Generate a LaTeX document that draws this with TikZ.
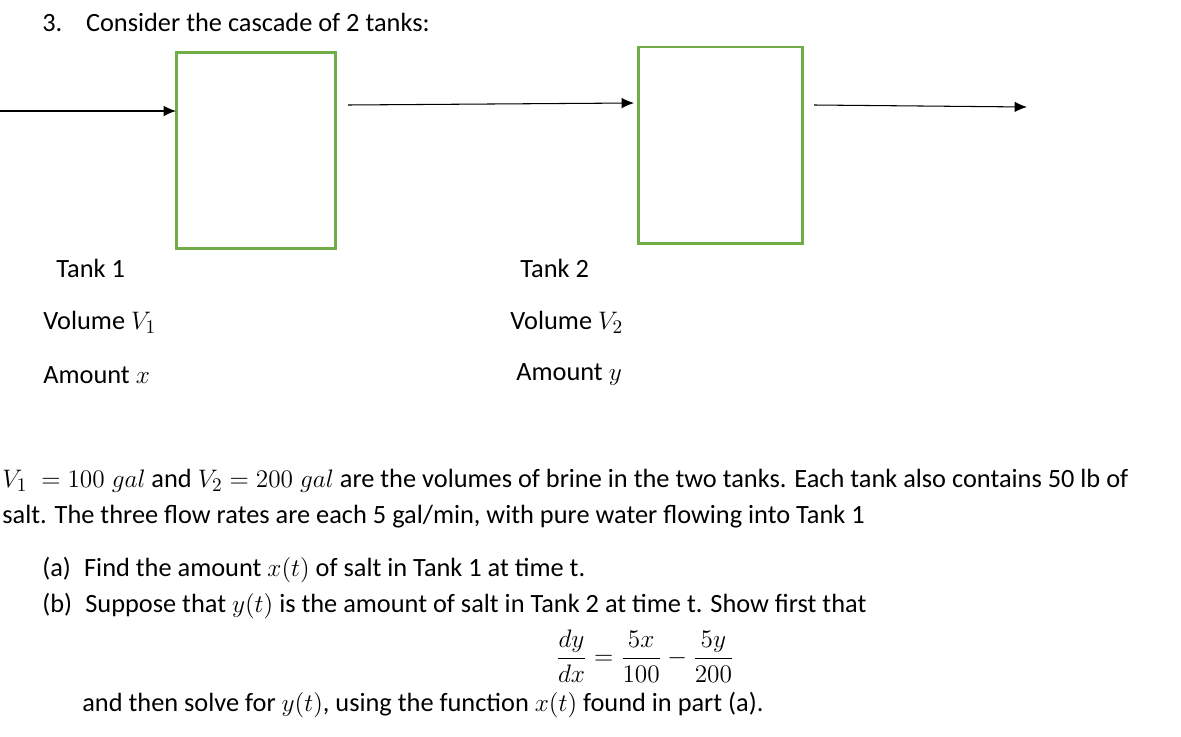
\documentclass[tikz,border=0pt]{standalone}
\usepackage{fontspec}
\setmainfont{Carlito}
\usepackage{amsmath}
\usetikzlibrary{arrows.meta}
\begin{document}
\begin{tikzpicture}[x=0.02cm,y=-0.02cm,
  tank/.style={draw={rgb,255:red,112;green,173;blue,71},line width=0.06cm},
  flow/.style={-{Latex[length=7pt,width=6pt]},line width=0.6pt},
  txt/.style={anchor=west,inner sep=0pt,font=\fontsize{15}{18}\selectfont}]
\useasboundingbox (0,0) rectangle (1181,737);
\node[txt] (title) at (42,22) {3.\hspace{0.9em}Consider the cascade of 2 tanks:};
\draw[tank] (176,52) rectangle (335,248);
\draw[tank] (638,47) rectangle (802,243);
\coordinate (a0) at (0,111); \coordinate (a1) at (176,111);
\coordinate (b0) at (348,105); \coordinate (b1) at (634,103);
\coordinate (c0) at (814,105); \coordinate (c1) at (1027,107);
\draw[flow] (a0) -- (a1);
\draw[flow] (b0) -- (b1);
\draw[flow] (c0) -- (c1);
\node[txt] (t1) at (56,268) {Tank 1};
\node[txt] (v1) at (43,322) {Volume $V_1$};
\node[txt] (x1) at (43,375) {Amount $x$};
\node[txt] (t2) at (520,268) {Tank 2};
\node[txt] (v2) at (510,322) {Volume $V_2$};
\node[txt] (x2) at (516,375) {Amount $y$};
\node[txt] (p1) at (2,481) {$V_1\;=100\;gal$ and $V_2=200\;gal$ are the volumes of brine in the two tanks. Each tank also contains 50 lb of};
\node[txt] (p2) at (2,517) {salt. The three flow rates are each 5 gal/min, with pure water flowing into Tank 1};
\node[txt] (qa) at (42,570) {(a)\hspace{0.5em}Find the amount $x(t)$ of salt in Tank 1 at time t.};
\node[txt] (qb) at (42,606) {(b)\hspace{0.5em}Suppose that $y(t)$ is the amount of salt in Tank 2 at time t. Show first that};
\node[inner sep=0pt,font=\fontsize{15}{18}\selectfont] (eq) at (645,656) {$\dfrac{dy}{dx}=\dfrac{5x}{100}-\dfrac{5y}{200}$};
\node[txt] (qc) at (82,705) {and then solve for $y(t)$, using the function $x(t)$ found in part (a).};
\end{tikzpicture}
\end{document}
